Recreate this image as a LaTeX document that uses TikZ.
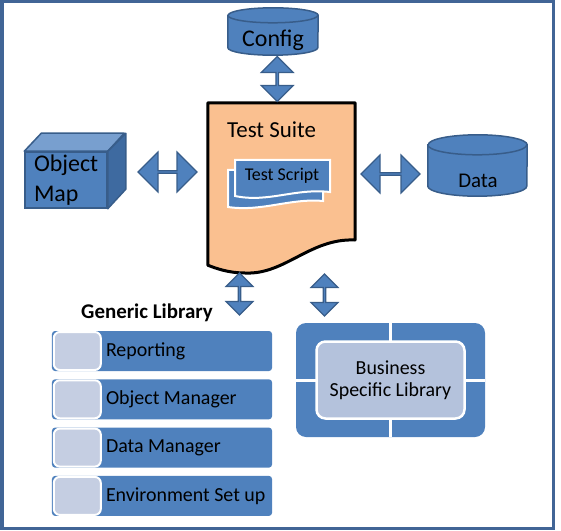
\documentclass[tikz,border=0pt]{standalone}
\usepackage{fontspec}
\setmainfont{Carlito}
\usetikzlibrary{shapes.arrows,calc}
\definecolor{frameblue}{RGB}{65,101,150}
\definecolor{officeblue}{RGB}{79,129,189}
\definecolor{officeline}{RGB}{56,93,138}
\definecolor{cubetop}{RGB}{120,159,207}
\definecolor{cubeside}{RGB}{62,106,160}
\definecolor{suitepeach}{RGB}{250,192,144}
\definecolor{liblight}{RGB}{197,206,226}
\definecolor{bizlight}{RGB}{180,194,220}

% drum around a node: name, x radius, y radius
\newcommand{\drum}[3]{%
  \filldraw[fill=officeblue, draw=officeline, line width=1.5bp]
    ([yshift=-#3]#1.north west) -- ([yshift=#3]#1.south west)
    arc[start angle=180, end angle=360, x radius=#2, y radius=#3]
    -- ([yshift=-#3]#1.north east)
    arc[start angle=0, end angle=180, x radius=#2, y radius=#3] -- cycle;
  \draw[officeline, line width=1.5bp] ([yshift=-#3]#1.north west)
    arc[start angle=180, end angle=360, x radius=#2, y radius=#3];}

\tikzset{
  storebox/.style={rectangle, inner sep=0pt},
  linkarrow/.style={double arrow, draw=officeline, line width=1.2bp, fill=officeblue, inner sep=0pt},
  libbar/.style={rectangle, rounded corners=3bp, fill=officeblue, minimum width=220bp, minimum height=40bp},
  libbox/.style={rectangle, rounded corners=6bp, draw=white, line width=2bp, fill=liblight, minimum width=47bp, minimum height=38bp},
  libtext/.style={font=\fontsize{20}{24}\selectfont, inner sep=0pt},
}

\begin{document}
\begin{tikzpicture}[x=1bp, y=-1bp]
\useasboundingbox (0,0) rectangle (561,531);
% outer frame
\draw[frameblue, line width=3bp] (2,2) rectangle (553,528);

% test suite page
\node[minimum width=147bp, minimum height=162bp, inner sep=0pt] (suite) at (281.5,184) {};
\filldraw[fill=suitepeach, draw=black, line width=3bp, line join=round]
  (suite.north west) -- (suite.north east) -- (355,240)
  .. controls (310,238) and (285,275) .. (245,273)
  .. controls (228,273) and (215,268) .. (suite.south west) -- cycle;
\node[anchor=west, font=\fontsize{23}{28}\selectfont, inner sep=0pt] (suitetitle) at (227,130) {Test Suite};

% test script sheets
\filldraw[fill=officeblue, draw=white, line width=2bp]
  (228,170) -- (323,170) -- (323,201) .. controls (290,198) and (262,212) .. (228,207) -- cycle;
\filldraw[fill=officeblue, draw=white, line width=2bp]
  (235,160) -- (330,160) -- (330,192) .. controls (295,188) and (268,203) .. (235,196) -- cycle;
\node[font=\fontsize{18}{22}\selectfont, inner sep=0pt] (script) at (282,176) {Test Script};

% stores
\node[storebox, minimum width=90bp, minimum height=47bp] (config) at (273,31.5) {};
\drum{config}{45bp}{7.5bp}
\node[font=\fontsize{24}{29}\selectfont, inner sep=0pt] (configtext) at (273,40) {Config};
\node[storebox, minimum width=99bp, minimum height=61bp] (data) at (477.5,165.5) {};
\drum{data}{49.5bp}{10bp}
\node[font=\fontsize{21}{25}\selectfont, inner sep=0pt] (datatext) at (478,181) {Data};

% object map cube
\node[rectangle, fill=officeblue, draw=officeline, line width=1.5bp, minimum width=82bp, minimum height=56bp,
  text width=64bp, inner xsep=9bp, inner ysep=0pt, align=left, font=\fontsize{24}{30}\selectfont] (objmap) at (66,180) {Object\\Map};
\filldraw[fill=cubetop, draw=officeline, line width=1.5bp, line join=round]
  (objmap.north west) -- ++(17,-18) -- ++(83,0) -- (objmap.north east) -- cycle;
\filldraw[fill=cubeside, draw=officeline, line width=1.5bp, line join=round]
  (objmap.north east) -- ++(18,-18) -- ++(0,56) -- (objmap.south east) -- cycle;

% links
\node[linkarrow, minimum width=32bp, minimum height=45bp, double arrow head extend=6.5bp, rotate=90] (cfglink) at ($(config.south)!0.5!(suite.north)$) {};
\node[linkarrow, minimum width=40bp, minimum height=59bp, double arrow head extend=9bp] (maplink) at (167.5,172) {};
\node[linkarrow, minimum width=38bp, minimum height=59bp, double arrow head extend=8.5bp] (datalink) at (390.5,174) {};
\node[linkarrow, minimum width=27bp, minimum height=42bp, double arrow head extend=6bp, rotate=90] (genlink) at (239.5,294) {};
\node[linkarrow, minimum width=27bp, minimum height=42bp, double arrow head extend=6bp, rotate=90] (bizlink) at (324.5,295) {};

% generic library
\node[font=\bfseries\fontsize{21}{25}\selectfont] (genlib) at (147,313) {Generic Library};
\foreach \name/\txt [count=\i from 0] in {report/Reporting, objmgr/Object Manager, datamgr/Data Manager, envsetup/Environment Set up} {
  \node[libbar] (\name) at (162, 351+48.3*\i) {};
  \node[libbox, anchor=west] (\name box) at ([xshift=1bp]\name.west) {};
  \node[libtext, anchor=west] (\name text) at ([xshift=4bp]\name box.east) {\txt};
}

% business specific library
\node[rectangle, rounded corners=10bp, fill=officeblue, minimum width=189bp, minimum height=114bp] (bizframe) at (390.5,380) {};
\draw[white, line width=3bp] (bizframe.north) -- (bizframe.south) (bizframe.west) -- (bizframe.east);
\node[rectangle, rounded corners=9bp, draw=white, line width=2.5bp, fill=bizlight, minimum width=148bp, minimum height=77bp,
  align=center, font=\fontsize{20}{22}\selectfont] (biz) at (bizframe.center) {Business\\Specific Library};
\end{tikzpicture}
\end{document}
